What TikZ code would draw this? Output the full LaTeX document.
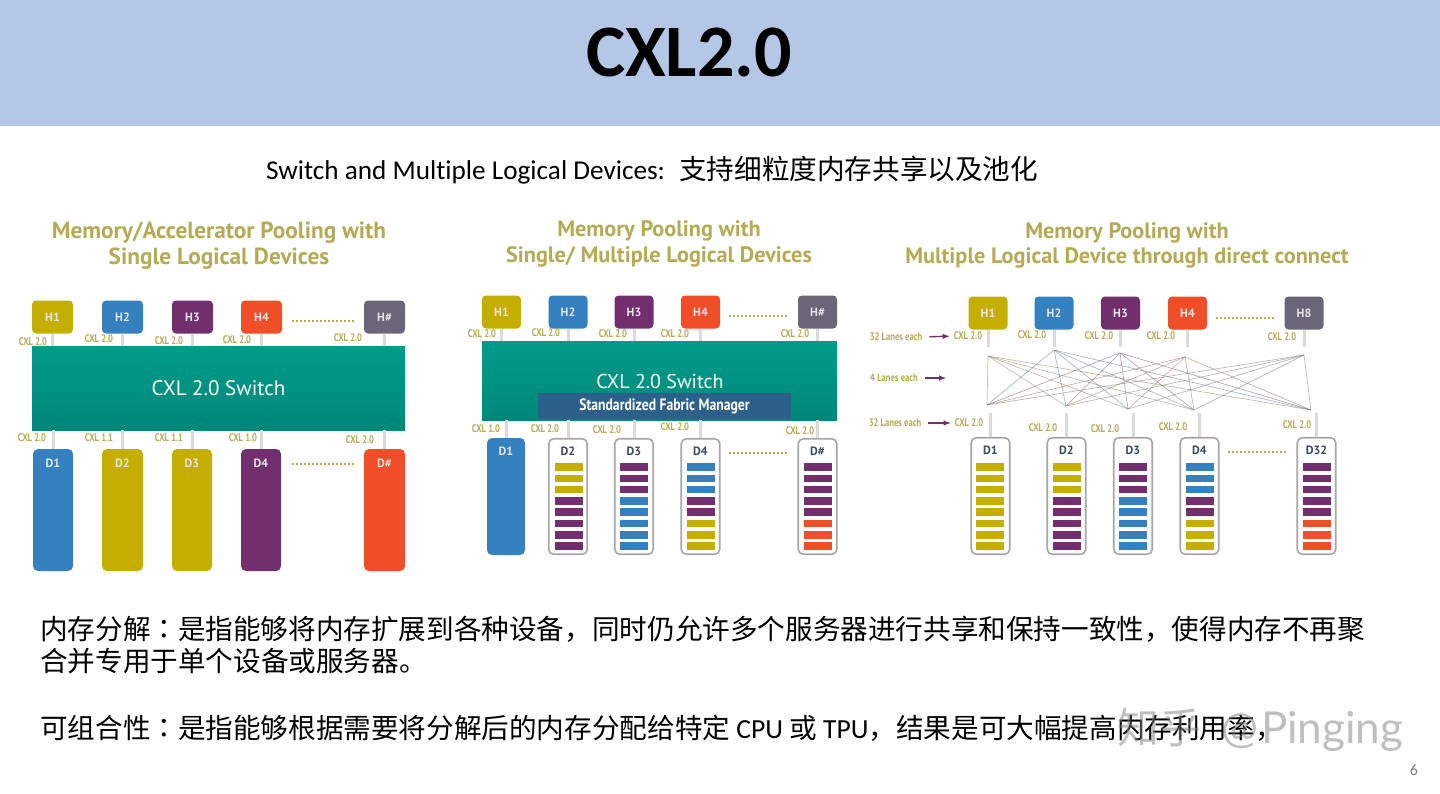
\documentclass[tikz,border=0pt]{standalone}
\usepackage{fontspec}
\usepackage{xcolor}
\usepackage{graphicx}
\setmainfont[Ligatures=NoCommon]{Carlito}
\newfontfamily\cjk{Noto Sans CJK SC}
\newfontfamily\cjktc{Noto Sans CJK TC}
\newfontfamily\din{PT Sans}
\newfontfamily\wmark{Lato}
\definecolor{banner}{HTML}{B4C7E7}
\definecolor{khaki}{HTML}{B5AA55}
\definecolor{hyellow}{HTML}{C4AE00}
\definecolor{hblue}{HTML}{3580BE}
\definecolor{hpurple}{HTML}{722F6E}
\definecolor{horange}{HTML}{F04E28}
\definecolor{hgrey}{HTML}{6A6678}
\definecolor{tealtop}{HTML}{009C89}
\definecolor{tealbot}{HTML}{00877A}
\definecolor{fabric}{HTML}{2C5F8A}
\definecolor{stubgrey}{HTML}{DADADA}
\definecolor{boxgrey}{HTML}{A6A6A6}
\definecolor{devtext}{HTML}{3B4A5A}
\tikzstyle{panelhead} =[
    text=khaki,
    font=\din\bfseries\fontsize{22.3}{26}\selectfont,
    inner sep=0pt
    ]
\tikzstyle{widehead} =[
    text=khaki,
    font=\din\bfseries\fontsize{23.3}{26}\selectfont,
    inner sep=0pt
    ]
\tikzstyle{cxllabel} =[
    text=khaki,
    font=\din\bfseries\fontsize{11}{12}\selectfont,
    inner sep=0pt
    ]
\tikzstyle{hostbox} =[
    rectangle,
    rounded corners=4pt,
    text=white!90!black,
    font=\din\bfseries\fontsize{12}{14}\selectfont,
    minimum height=33,
    inner sep=0pt
    ]
\tikzstyle{soliddev} =[
    rectangle,
    rounded corners=5pt,
    inner sep=0pt
    ]
\tikzstyle{memdev} =[
    rectangle,
    rounded corners=5pt,
    draw=boxgrey,
    line width=1.6pt,
    fill=white,
    inner sep=0pt
    ]
\tikzstyle{devname} =[
    font=\din\bfseries\fontsize{12}{14}\selectfont,
    inner sep=0pt
    ]
\tikzstyle{switchbox} =[
    rectangle,
    top color=tealtop,
    bottom color=tealbot,
    text=white,
    font=\din\fontsize{21}{24}\selectfont,
    inner sep=0pt
    ]
\tikzstyle{membar} =[
    rectangle,
    minimum width=28,
    minimum height=7.6,
    inner sep=0pt
    ]
\tikzstyle{stub} =[stubgrey, line width=3pt]
\tikzstyle{dotline} =[khaki, line width=2pt, dash pattern=on 2pt off 2pt]
\tikzstyle{lanearrow} =[hpurple, line width=1.4pt, -latex, shorten >=4pt, shorten <=7pt]
\tikzstyle{meshline} =[line width=0.7pt, opacity=0.55]
\tikzstyle{bodyline} =[anchor=west, inner sep=0pt, font=\fontsize{27.6}{32}\selectfont]
\newcommand{\cxl}[1]{\scalebox{0.78}[1]{#1}}
% stack of eight bars below a device name
\newcommand{\barstack}[3]{%
    \foreach \c [count=\i] in {#3} {
        \node [membar, fill=\c] (#1b\i) at (#2, 455.7+11.3*\i) {};
    }
}

\begin{document}
\begin{tikzpicture}[x=1pt, y=-1pt]
\useasboundingbox (0,0) rectangle (1440,793);
\fill [banner] (0,0) rectangle (1440,126);
\node [font=\bfseries\fontsize{74}{80}\selectfont, inner sep=0pt] (title) at (689,52) {CXL2.0};
\node [inner sep=0pt, font=\fontsize{27.2}{32}\selectfont, anchor=west] (subtitle) at (266,170)
    {Switch and Multiple Logical Devices:\hspace{6pt} {\cjk\fontsize{27.6}{32}\selectfont 支持细粒度内存共享以及池化}};

% left panel
\node [widehead] (ahead1) at (219,233) {Memory/Accelerator Pooling with};
\node [widehead] (ahead2) at (219,259) {Single Logical Devices};
\foreach \n/\x/\c/\t in {1/52.5/hyellow/H1, 2/122.5/hblue/H2, 3/192.5/hpurple/H3, 4/261.5/horange/H4, 5/384.5/hgrey/H\#} {
    \node [hostbox, fill=\c, minimum width=41] (ah\n) at (\x,317) {\t};
}
\node [switchbox, minimum width=373, minimum height=84] (asw) at (218.5,388) {CXL 2.0 Switch};
\foreach \n/\x/\w/\c/\t in {1/53/40/hblue/D1, 2/122.5/41/hyellow/D2, 3/192/40/hyellow/D3, 4/261/40/hpurple/D4, 5/384.5/41/horange/D\#} {
    \node [soliddev, fill=\c, minimum width=\w, minimum height=122] (ad\n) at (\x,510) {};
    \node [devname, text=white!90!black] (adt\n) at (\x,463) {\t};
}
\foreach \n in {1,...,5} {
    \draw [stub] (ah\n.south) -- (ah\n.south |- asw.north);
    \draw [stub] (ad\n.north) -- (ad\n.north |- asw.south);
}
\draw [dotline] (292,321) -- (355,321);
\draw [dotline] (292,464) -- (355,464);
\foreach \n/\x/\y/\t in {1/33/342/CXL 2.0, 2/99/339/CXL 2.0, 3/169/341/CXL 2.0, 4/237/340/CXL 2.0, 5/348/338/CXL 2.0,
    6/32/438/CXL 2.0, 7/99/438/CXL 1.1, 8/169/438/CXL 1.1, 9/243/438/CXL 1.0, 10/360/440/CXL 2.0} {
    \node [cxllabel] (al\n) at (\x,\y) {\cxl{\t}};
}

% middle panel
\node [panelhead] (bhead1) at (659,231) {Memory Pooling with};
\node [panelhead] (bhead2) at (659,257) {Single/ Multiple Logical Devices};
\foreach \n/\x/\c/\t in {1/501.5/hyellow/H1, 2/568/hblue/H2, 3/634/hpurple/H3, 4/700.5/horange/H4, 5/817.5/hgrey/H\#} {
    \node [hostbox, fill=\c, minimum width=39] (bh\n) at (\x,312) {\t};
}
\node [switchbox, minimum width=355, minimum height=79, text depth=0pt] (bsw) at (659.5,380.5) {};
\node [text=white, font=\din\fontsize{20}{24}\selectfont, inner sep=0pt] (bswt) at (660,381) {CXL 2.0 Switch};
\node [rectangle, fill=fabric, minimum width=253, minimum height=26, inner sep=0pt,
    text=white, font=\din\bfseries\fontsize{16.5}{18}\selectfont] (bfm) at (664.5,406) {\scalebox{0.83}[1]{Standardized Fabric Manager}};
\node [soliddev, fill=hblue, minimum width=38, minimum height=117] (bd1) at (506,496.5) {};
\node [devname, text=white!90!black] (bdt1) at (506,451) {D1};
\foreach \n/\x/\t in {2/568/D2, 3/634/D3, 4/700.5/D4, 5/817.5/D\#} {
    \node [memdev, minimum width=38.5, minimum height=115.5] (bd\n) at (\x,496.5) {};
    \node [devname, text=devtext] (bdt\n) at (\x,451) {\t};
}
\barstack{bd2}{569}{hyellow,hyellow,hyellow,hpurple,hpurple,hpurple,hpurple,hpurple}
\barstack{bd3}{634}{hpurple,hpurple,hpurple,hblue,hblue,hblue,hblue,hblue}
\barstack{bd4}{700.5}{hblue,hblue,hblue,hpurple,hpurple,hyellow,hyellow,hyellow}
\barstack{bd5}{818}{hpurple,hpurple,hpurple,hpurple,hpurple,horange,horange,horange}
\foreach \n in {1,...,5} {
    \draw [stub] (bh\n.south) -- (bh\n.south |- bsw.north);
    \draw [stub] (bd\n.north) -- (bd\n.north |- bsw.south);
}
\draw [dotline] (729,316) -- (788,316);
\draw [dotline] (729,453) -- (788,453);
\foreach \n/\x/\y/\t in {1/482/334/CXL 2.0, 2/546/333/CXL 2.0, 3/613/334/CXL 2.0, 4/675/334/CXL 2.0, 5/795/334/CXL 2.0,
    6/486/429/CXL 1.0, 7/545/429/CXL 2.0, 8/607/430/CXL 2.0, 9/675/427/CXL 2.0, 10/800/431/CXL 2.0} {
    \node [cxllabel] (bl\n) at (\x,\y) {\cxl{\t}};
}

% right panel
\node [panelhead] (chead1) at (1127,233) {Memory Pooling with};
\node [panelhead] (chead2) at (1127,258) {Multiple Logical Device through direct connect};
\foreach \n/\x/\c/\t in {1/988/hyellow/H1, 2/1054/hblue/H2, 3/1120.5/hpurple/H3, 4/1187.5/horange/H4, 5/1304/hgrey/H8} {
    \node [hostbox, fill=\c, minimum width=39] (ch\n) at (\x,313) {\t};
    \coordinate (ct\n) at (\x,347);
    \draw [stub] (ch\n.south) -- (ct\n);
}
\foreach \n/\x/\t in {1/990.5/D1, 2/1066.5/D2, 3/1133/D3, 4/1199.5/D4, 5/1316.5/D32} {
    \node [memdev, minimum width=38.5, minimum height=116.5] (cd\n) at (\x,496) {};
    \node [devname, text=devtext] (cdt\n) at (\x,450) {\t};
    \coordinate (cb\n) at (\x,413);
    \draw [stub] (cd\n.north) -- (cb\n);
}
\barstack{cd1}{990}{hyellow,hyellow,hyellow,hyellow,hyellow,hyellow,hyellow,hyellow}
\barstack{cd2}{1067}{hyellow,hyellow,hyellow,hpurple,hpurple,hpurple,hpurple,hpurple}
\barstack{cd3}{1133}{hpurple,hpurple,hpurple,hblue,hblue,hblue,hblue,hblue}
\barstack{cd4}{1199.5}{hblue,hblue,hblue,hpurple,hpurple,hyellow,hyellow,hyellow}
\barstack{cd5}{1316.5}{hpurple,hpurple,hpurple,hpurple,hpurple,horange,horange,horange}
\draw [dotline] (1216,318) -- (1275,318);
\draw [dotline] (1228,452) -- (1287,452);
\coordinate (cup1) at (988,356);
\coordinate (cup2) at (1054,350);
\coordinate (cup3) at (1120,353);
\coordinate (cup4) at (1185,357);
\coordinate (cup5) at (1304,355);
\coordinate (clo1) at (987,405);
\coordinate (clo2) at (1066,406);
\coordinate (clo3) at (1128,409);
\coordinate (clo4) at (1194,410);
\coordinate (clo5) at (1311,410);
\foreach \n/\c in {1/hyellow!25!gray, 2/hblue!50!gray, 3/hpurple!35!gray, 4/horange!30!gray, 5/gray} {
    \foreach \m in {1,...,5} {
        \draw [meshline, \c] (cup\n) -- (clo\m);
    }
}
\foreach \n/\x/\y/\t in {1/968/336/CXL 2.0, 2/1032/335/CXL 2.0, 3/1099/336/CXL 2.0, 4/1161/336/CXL 2.0, 5/1282/337/CXL 2.0,
    6/969/423/CXL 2.0, 7/1043/428/CXL 2.0, 8/1105/429/CXL 2.0, 9/1173/427/CXL 2.0, 10/1297/425/CXL 2.0} {
    \node [cxllabel] (cl\n) at (\x,\y) {\cxl{\t}};
}
\node [cxllabel] (clane1) at (896,337) {\cxl{32 Lanes each}};
\node [cxllabel] (clane2) at (894,378) {\cxl{4 Lanes each}};
\node [cxllabel] (clane3) at (895,423) {\cxl{32 Lanes each}};
\coordinate (cgap) at (950,378);
\draw [lanearrow] (clane1.east) -- (cl1.west);
\draw [lanearrow] (clane2.east) -- (cgap);
\draw [lanearrow] (clane3.east) -- (cl6.west);

% text under the panels
\node [bodyline] (body1) at (40,629) {\cjk 内存分解{\cjktc ：}是指能够将内存扩展到各种设备，同时仍允许多个服务器进行共享和保持一致性，使得内存不再聚};
\node [bodyline] (body2) at (40,661) {\cjk 合并专用于单个设备或服务器。};
\node [bodyline] (body3) at (40,728) {{\cjk 可组合性{\cjktc ：}是指能够根据需要将分解后的内存分配给特定} CPU {\cjk 或} TPU{\cjk ，结果是可大幅提高内存利用率，}};
\node [inner sep=0pt, text=gray, font=\fontsize{16}{18}\selectfont] (pagenum) at (1414,770) {6};
\node [inner sep=0pt, anchor=base west, text=gray, opacity=0.5, font=\wmark\fontsize{44}{50}\selectfont] (wmark) at (1117,743)
    {{\cjk\fontsize{42}{44}\selectfont 知乎}\hspace{20pt}@\hspace{3pt}Pinging};
\end{tikzpicture}
\end{document}
